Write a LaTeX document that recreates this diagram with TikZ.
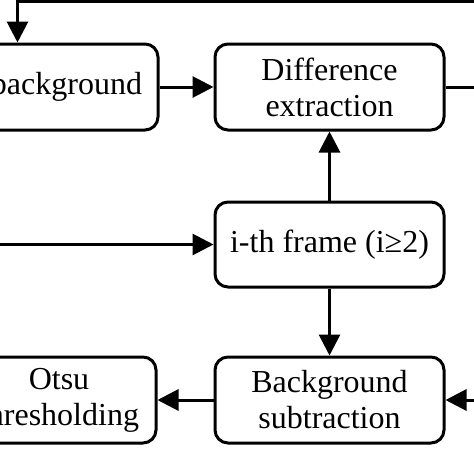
\documentclass[tikz,border=0pt]{standalone}
\usepackage{fontspec}
\setmainfont{Liberation Serif}
\usetikzlibrary{arrows.meta}
\begin{document}
\begin{tikzpicture}[x=1pt,y=-1pt,
  flowbox/.style={draw=black, line width=3pt, rounded corners=13pt, fill=white,
    align=center, inner sep=0pt, font=\fontsize{32}{36}\selectfont},
  link/.style={line width=3pt, -{Triangle[length=21pt,width=21pt]}},
  plain/.style={line width=3pt}]
\useasboundingbox (0,0) rectangle (474,474);
\clip (0,0) rectangle (474,474);
\node[flowbox, minimum width=238pt, minimum height=86pt, text width=206pt, align=right] (bg) at (39,87) {background};
\node[flowbox, minimum width=229pt, minimum height=86pt] (diff) at (329.5,87) {Difference\\extraction};
\node[flowbox, minimum width=229pt, minimum height=85pt] (frame) at (329.5,244.5) {i-th frame (i≥2)};
\node[flowbox, minimum width=229pt, minimum height=86pt] (sub) at (329.5,400) {Background\\subtraction};
\node[flowbox, minimum width=194pt, minimum height=86pt] (otsu) at (59,400) {Otsu\\thresholding};
\coordinate (topR) at (480,1.8);
\coordinate (diffR) at (480,87);
\coordinate (frameL) at (-10,244.5);
\coordinate (subR) at (480,400);
\draw[link] (topR) -| ([xshift=-21.5pt]bg.north);
\draw[link] (bg.east) -- (diff.west);
\draw[plain] (diff.east) -- (diffR);
\draw[link] (frame.north) -- (diff.south);
\draw[link] (frameL) -- (frame.west);
\draw[link] (frame.south) -- (sub.north);
\draw[link] (subR) -- (sub.east);
\draw[link] (sub.west) -- (otsu.east);
\end{tikzpicture}
\end{document}
